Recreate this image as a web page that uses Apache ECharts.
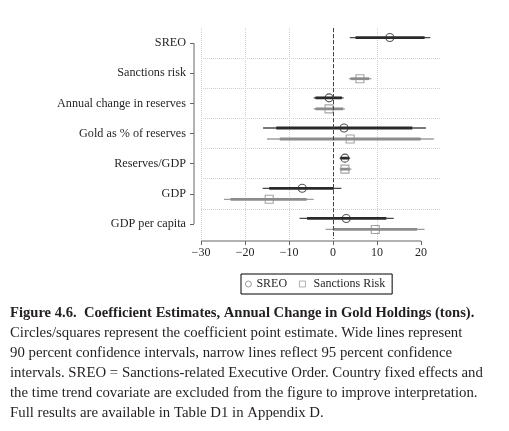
<!DOCTYPE html>
<html>
<head>
<meta charset="utf-8">
<script src="https://cdn.jsdelivr.net/npm/echarts@6/dist/echarts.min.js"></script>
<style>
  html, body { margin: 0; padding: 0; background: #fff; }
  #chart { width: 509px; height: 431px; }
</style>
</head>
<body>
<div id="chart"></div>
<script>
// rows, top to bottom
const variables = ['SREO', 'Sanctions risk', 'Annual change in reserves', 'Gold as % of reserves',
  'Reserves/GDP', 'GDP', 'GDP per capita'];

// SREO model (circles)
const sreoEst  = [12.9, null, -0.9,   2.5, 2.7,  -7.0,  3.0];
const sreoLo90 = [5.1,  null, -4.0, -12.9, 1.7, -14.5, -5.9];
const sreoHi90 = [20.8, null,  2.0,  18.0, 3.6,   0.2, 12.1];
const sreoLo95 = [3.8,  null, -4.4, -15.9, 1.5, -16.0, -7.6];
const sreoHi95 = [22.1, null,  2.4,  21.1, 3.9,   1.9, 13.8];

// Sanctions risk model (squares)
const riskEst  = [null, 6.1, -0.9,   3.9, 2.7, -14.5,  9.6];
const riskLo90 = [null, 4.0, -4.0, -12.1, 1.7, -23.3,  0.0];
const riskHi90 = [null, 8.2,  2.3,  19.9, 3.8,  -6.0, 19.1];
const riskLo95 = [null, 3.6, -4.4, -15.0, 1.5, -24.8, -1.7];
const riskHi95 = [null, 8.7,  2.7,  22.9, 4.2,  -4.4, 20.8];

const xTicks = [-30, -20, -10, 0, 10, 20];

const captionTitle = 'Figure 4.6.  Coefficient Estimates, Annual Change in Gold Holdings (tons).';
const captionLines = [
  'Circles/squares represent the coefficient point estimate. Wide lines represent',
  '90 percent confidence intervals, narrow lines reflect 95 percent confidence',
  'intervals. SREO = Sanctions-related Executive Order. Country fixed effects and',
  'the time trend covariate are excluded from the figure to improve interpretation.',
  'Full results are available in Table D1 in Appendix D.'
];

const SERIF = "'Liberation Serif', 'DejaVu Serif', serif";
const DARK = '#2a2a2a';
const GREY = '#8c8c8c';

function ciData(est, lo95, hi95, lo90, hi90) {
  const out = [];
  est.forEach(function (v, i) {
    if (v === null) return;
    out.push([lo95[i], hi95[i], lo90[i], hi90[i], i]);
  });
  return out;
}

function pointData(est) {
  const out = [];
  est.forEach(function (v, i) {
    if (v !== null) out.push([v, i]);
  });
  return out;
}

function ciRenderer(dy, color) {
  return function (params, api) {
    const y = api.coord([0, api.value(4)])[1] + dy;
    const a = api.coord([api.value(0), 0])[0];
    const b = api.coord([api.value(1), 0])[0];
    const c = api.coord([api.value(2), 0])[0];
    const d = api.coord([api.value(3), 0])[0];
    return {
      type: 'group',
      children: [
        { type: 'line', shape: { x1: a, y1: y, x2: b, y2: y },
          style: { stroke: color, lineWidth: 1.3, opacity: 0.85 } },
        { type: 'line', shape: { x1: c, y1: y, x2: d, y2: y },
          style: { stroke: color, lineWidth: 2.8 } }
      ]
    };
  };
}

const chart = echarts.init(document.getElementById('chart'), null, { renderer: 'canvas' });

const captionGraphics = [{
  type: 'text', x: 10, y: 313,
  style: { text: captionTitle, fontFamily: SERIF, fontSize: 14.6, fontWeight: 'bold',
    fill: '#231f20', verticalAlign: 'middle' }
}];
captionLines.forEach(function (t, i) {
  captionGraphics.push({
    type: 'text', x: 10, y: 333 + i * 20,
    style: { text: t, fontFamily: SERIF, fontSize: 14.8, fill: '#231f20', verticalAlign: 'middle' }
  });
});

const option = {
  animation: false,
  backgroundColor: '#fff',
  grid: { left: 201, right: 69, top: 28, height: 211, containLabel: false },
  legend: {
    left: 241, top: 274,
    data: [
      { name: 'SREO', icon: 'circle',
        itemStyle: { color: '#fff', borderColor: '#666', borderWidth: 0.8 } },
      { name: 'Sanctions Risk', icon: 'rect',
        itemStyle: { color: '#fff', borderColor: '#888', borderWidth: 0.8 } }
    ],
    formatter: function (name) { return name === 'Sanctions Risk' ? ' ' + name : name; },
    itemWidth: 6, itemHeight: 6, itemGap: 12,
    padding: [4, 7, 4, 4],
    borderColor: '#000', borderWidth: 1, borderRadius: 0,
    textStyle: { fontFamily: SERIF, fontSize: 12, color: '#231f20' },
    selectedMode: false
  },
  xAxis: {
    type: 'value', min: -30, max: 24.3, interval: 10,
    offset: 2,
    axisLine: { show: false, onZero: false },
    axisTick: { show: true, length: 4, customValues: xTicks, lineStyle: { color: '#666' } },
    axisLabel: {
      customValues: xTicks, margin: 6,
      fontFamily: SERIF, fontSize: 12, color: '#231f20',
      formatter: function (v) { return String(v).replace('-', '\u2212'); }
    },
    splitLine: { show: true, showMaxLine: false,
      lineStyle: { type: 'dotted', color: '#cfcfcf', width: 1 } }
  },
  yAxis: {
    type: 'category', data: variables, inverse: true, boundaryGap: true,
    offset: 7,
    axisLine: { show: false, onZero: false },
    axisTick: { show: true, alignWithLabel: true, length: 4, lineStyle: { color: '#666' } },
    axisLabel: { margin: 8, fontFamily: SERIF, fontSize: 12.2, color: '#231f20' },
    splitLine: { show: true, showMinLine: false, showMaxLine: false,
      lineStyle: { type: 'dotted', color: '#cfcfcf', width: 1 } }
  },
  graphic: captionGraphics,
  series: [
    {
      // R-style axis lines, spanning first to last tick
      name: 'frame', type: 'custom', silent: true, z: 1,
      data: [[0]],
      renderItem: function (params, api) {
        const cs = params.coordSys;
        const yTop = api.coord([0, 0])[1];
        const yBot = api.coord([0, variables.length - 1])[1];
        const xL = api.coord([xTicks[0], 0])[0];
        const xR = api.coord([xTicks[xTicks.length - 1], 0])[0];
        const ax = cs.x - 7;
        const ay = cs.y + cs.height + 2;
        return {
          type: 'group',
          children: [
            { type: 'line', shape: { x1: ax, y1: yTop, x2: ax, y2: yBot },
              style: { stroke: '#666', lineWidth: 1 } },
            { type: 'line', shape: { x1: xL, y1: ay, x2: xR, y2: ay },
              style: { stroke: '#666', lineWidth: 1 } }
          ]
        };
      },
      markLine: {
        silent: true, symbol: 'none', label: { show: false },
        lineStyle: { type: 'dashed', color: '#444', width: 1 },
        data: [{ xAxis: 0 }]
      }
    },
    {
      name: 'SREO CI', type: 'custom', z: 2, silent: true,
      data: ciData(sreoEst, sreoLo95, sreoHi95, sreoLo90, sreoHi90),
      renderItem: ciRenderer(-5.5, DARK)
    },
    {
      name: 'Risk CI', type: 'custom', z: 2, silent: true,
      data: ciData(riskEst, riskLo95, riskHi95, riskLo90, riskHi90),
      renderItem: ciRenderer(5.5, GREY)
    },
    {
      name: 'SREO', type: 'scatter', z: 3,
      data: pointData(sreoEst),
      symbol: 'circle', symbolSize: 8, symbolOffset: [0, -5.5],
      itemStyle: { color: 'rgba(255,255,255,0)', borderColor: DARK, borderWidth: 1.1 }
    },
    {
      name: 'Sanctions Risk', type: 'scatter', z: 3,
      data: pointData(riskEst),
      symbol: 'rect', symbolSize: 8, symbolOffset: [0, 5.5],
      itemStyle: { color: 'rgba(255,255,255,0)', borderColor: GREY, borderWidth: 1.1 }
    }
  ]
};

chart.setOption(option);
</script>
</body>
</html>
